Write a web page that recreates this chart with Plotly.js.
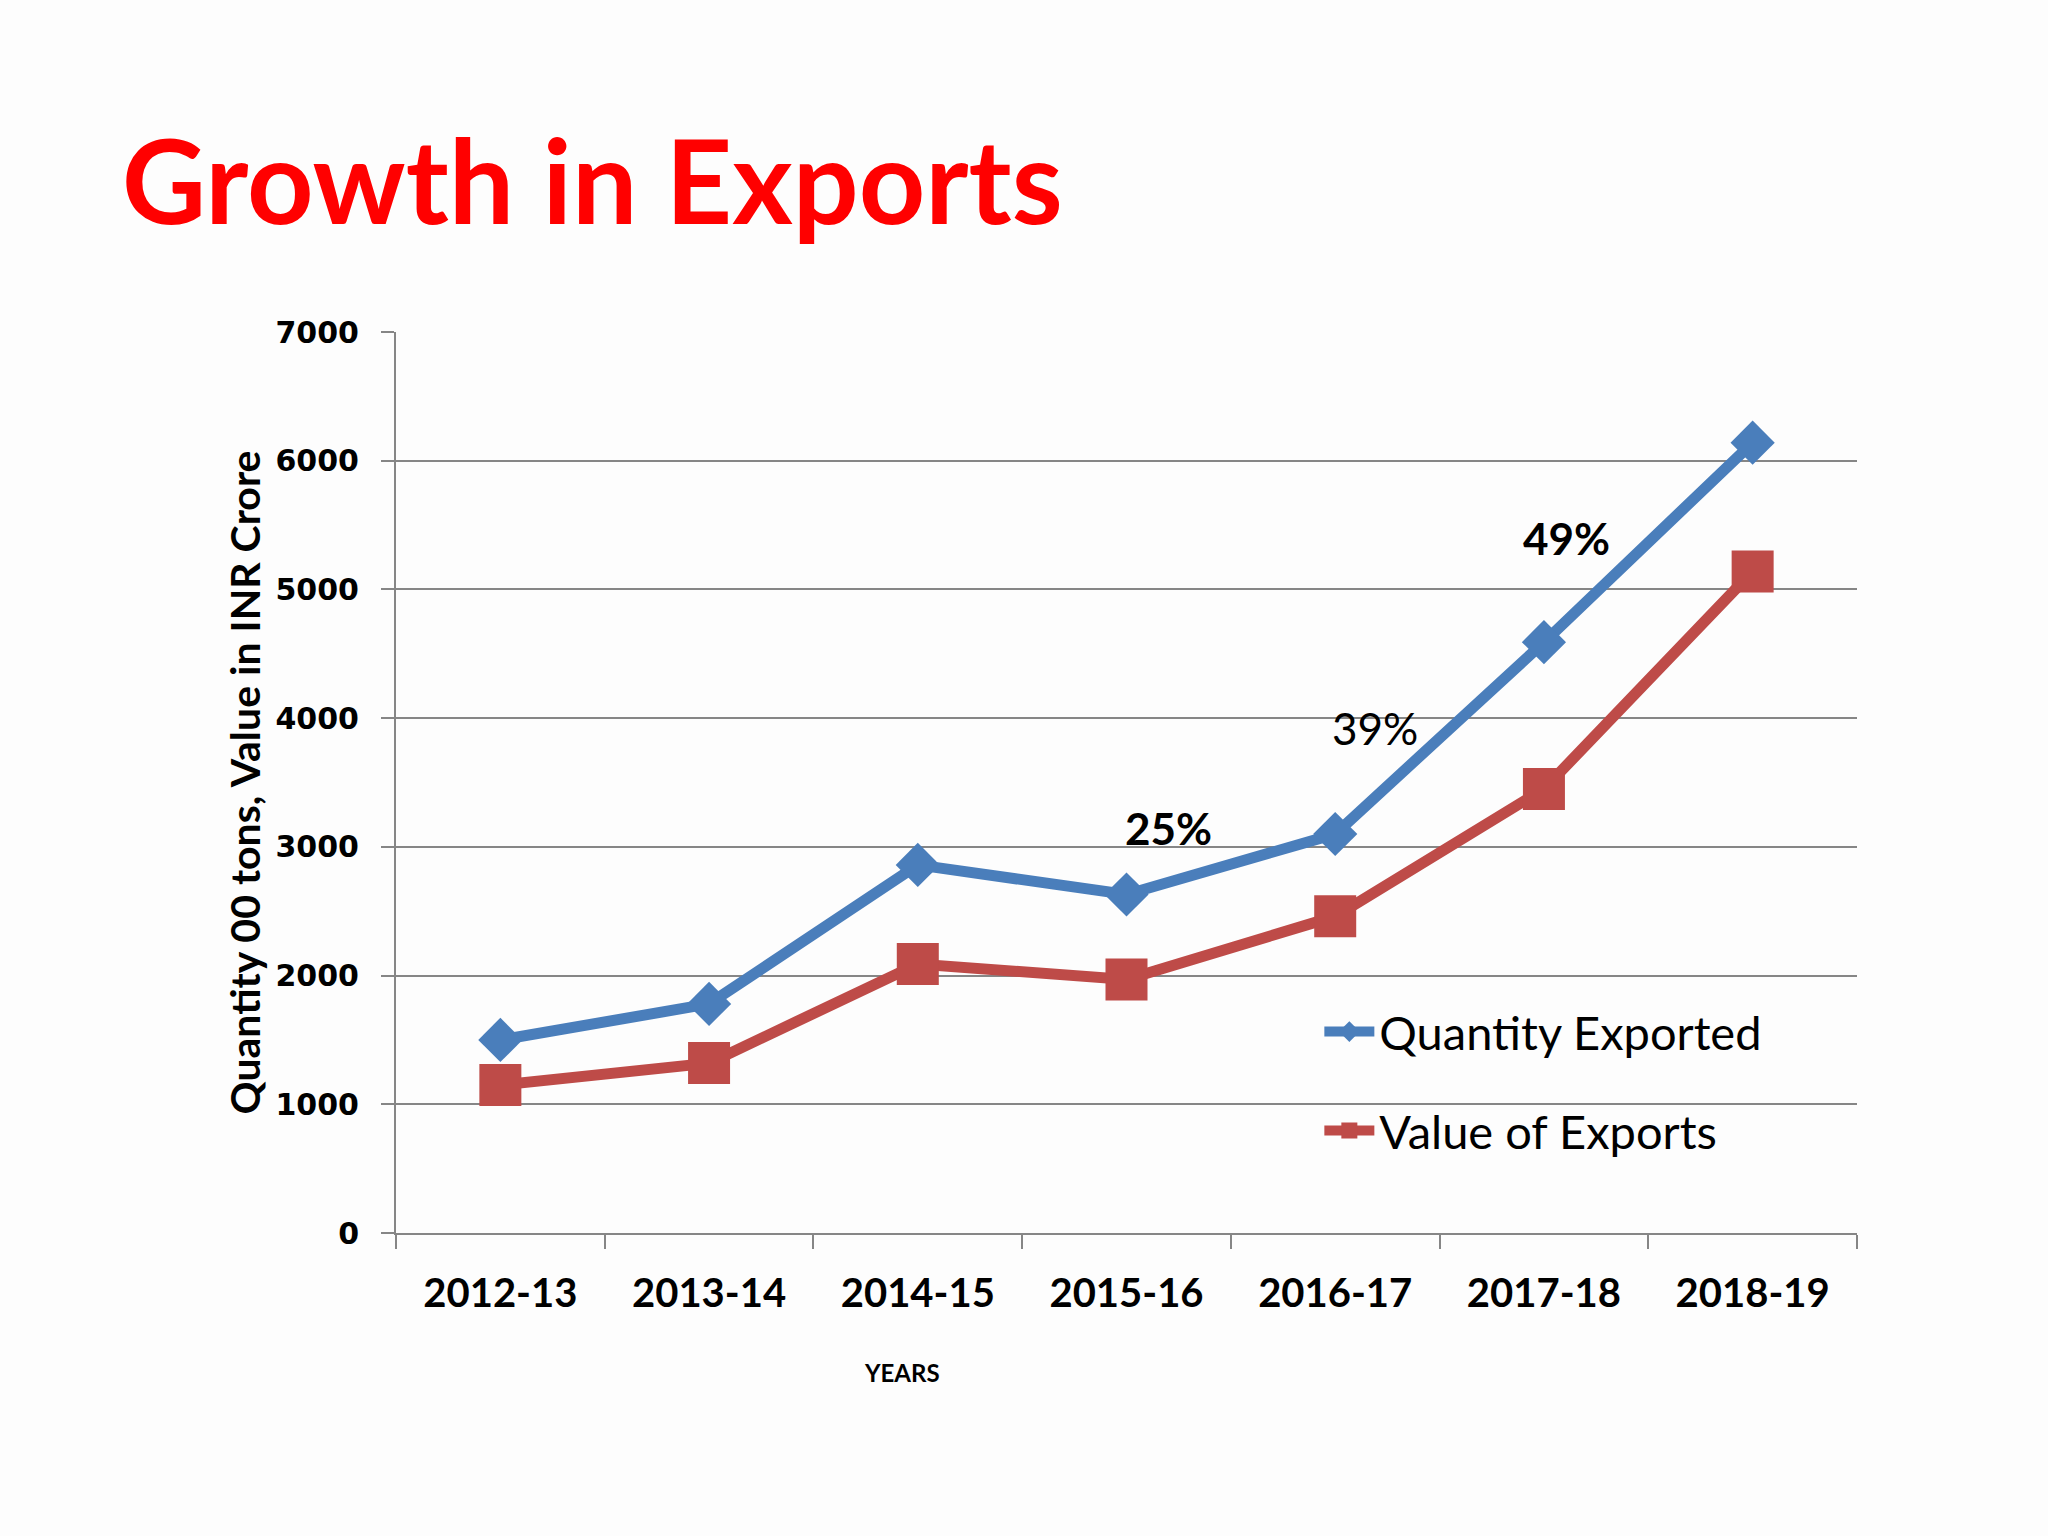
<!DOCTYPE html>
<html>
<head>
<meta charset="utf-8">
<script src="https://cdn.plot.ly/plotly-3.0.1.min.js"></script>
<style>html,body{margin:0;padding:0;background:#fdfdfd;}#chart{width:2048px;height:1536px;}</style>
</head>
<body>
<div id="chart"></div>
<script>
const years = ["2012-13","2013-14","2014-15","2015-16","2016-17","2017-18","2018-19"];
const quantityExported = [1500,1780,2860,2630,3100,4590,6140];
const valueOfExports = [1150,1320,2090,1970,2460,3450,5140];
const growthLabels = ["25%","39%","49%"];
const growthX = [3.2,4.19,5.11];
const growthY = [3150,3920,5400];
const growthBold = [true,false,true];

const traces = [
  {x: years, y: quantityExported, name: "Quantity Exported", type: "scatter", mode: "lines+markers",
   line: {color: "#4a7ebb", width: 11}, marker: {symbol: "diamond", size: 34, color: "#4a7ebb"}, legend: "legend"},
  {x: years, y: valueOfExports, name: "Value of Exports", type: "scatter", mode: "lines+markers",
   line: {color: "#be4b48", width: 11}, marker: {symbol: "square", size: 42, color: "#be4b48"}, legend: "legend2"}
];

const annotations = growthLabels.map((t,i)=>({
  x: growthX[i], y: growthY[i], xref: "x", yref: "y", text: t,
  showarrow: false, font: {family: "Lato", size: 44, color: "#000", weight: growthBold[i] ? "bold" : "normal"},
  xanchor: "center", yanchor: "middle"
}));
annotations.push({x: (902-396)/1461.5, y: (1233-1373)/901.2, xref: "paper", yref: "paper", text: "YEARS",
  showarrow: false, font: {family: "Lato", size: 24, color: "#000", weight: "bold"}, xanchor: "center", yanchor: "middle"});

const legendFont = {family: "Lato", size: 47, color: "#000"};
const layout = {
  width: 2048, height: 1536,
  paper_bgcolor: "#fdfdfd", plot_bgcolor: "#fdfdfd",
  margin: {l: 396, r: 191, t: 332, b: 303},
  title: {text: "Growth in Exports", font: {family: "Lato", size: 116, color: "#ff0000", weight: "bold"},
    xref: "container", yref: "container", x: 122/2048, xanchor: "left", y: 1-183/1536, yanchor: "middle"},
  xaxis: {type: "category", range: [-0.5, 6.5], autorange: false, showgrid: false, showline: true, linecolor: "#868686", linewidth: 2,
    ticks: "outside", tickson: "boundaries", ticklen: 14, tickcolor: "#868686", tickwidth: 2,
    ticklabelstandoff: 24, tickfont: {family: "Lato", size: 40, color: "#000", weight: "bold"}},
  yaxis: {range: [0,7000], autorange: false, dtick: 1000, showgrid: true, gridcolor: "#868686", gridwidth: 2,
    showline: true, linecolor: "#868686", linewidth: 2, ticks: "outside", ticklen: 13, tickcolor: "#868686", tickwidth: 2,
    ticklabelstandoff: 16, zeroline: false,
    tickfont: {family: "DejaVu Sans", size: 30, color: "#000", weight: "bold"},
    title: {text: "Quantity 00 tons, Value in INR Crore", font: {family: "Lato", size: 41, color: "#000", weight: "bold"}, standoff: 2}},
  legend: {x: 0.632, y: (1233-1032)/901.2, xanchor: "left", yanchor: "middle", bgcolor: "rgba(0,0,0,0)",
    itemwidth: 50, font: legendFont},
  legend2: {x: 0.632, y: (1233-1131)/901.2, xanchor: "left", yanchor: "middle", bgcolor: "rgba(0,0,0,0)",
    itemwidth: 50, font: legendFont},
  showlegend: true,
  annotations: annotations
};

Plotly.newPlot("chart", traces, layout, {displayModeBar: false, staticPlot: true});
</script>
</body>
</html>
